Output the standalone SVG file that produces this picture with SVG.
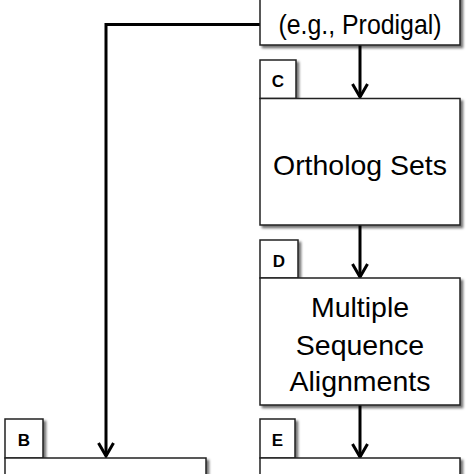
<svg xmlns="http://www.w3.org/2000/svg" width="474" height="474" viewBox="0 0 474 474">
<defs>
<filter id="sh" x="-10%" y="-10%" width="130%" height="130%">
<feDropShadow dx="2.5" dy="2.5" stdDeviation="1.3" flood-color="#000" flood-opacity="0.55"/>
</filter>
</defs>
<style>
.box{fill:#fff;stroke:#222;stroke-width:1.5;filter:url(#sh)}
.lbl{font-family:"Liberation Sans",Arial,sans-serif;font-size:28.5px;fill:#000;text-anchor:middle}
.tag{font-family:"Liberation Sans",Arial,sans-serif;font-size:17px;font-weight:bold;fill:#000;text-anchor:middle}
.ln{fill:none;stroke:#000;stroke-width:3}
.hd{fill:none;stroke:#000;stroke-width:3;stroke-linejoin:miter}
</style>
<rect width="474" height="474" fill="#fff"/>
<g id="connectors">
<path class="ln" d="M260,24.5 H106 V456"/>
<path class="hd" d="M98.5,443 L106,456 L113.5,443"/>
<path class="ln" d="M360,45 V97"/>
<path class="hd" d="M352.5,84 L360,97 L367.5,84"/>
<path class="ln" d="M360,225 V277"/>
<path class="hd" d="M352.5,264 L360,277 L367.5,264"/>
<path class="ln" d="M360,405 V457"/>
<path class="hd" d="M352.5,444 L360,457 L367.5,444"/>
</g>
<g id="node-A">
<rect class="box" x="260" y="-20" width="200" height="65"/>
<text class="lbl" x="360" y="34" textLength="163" lengthAdjust="spacingAndGlyphs">(e.g., Prodigal)</text>
</g>
<g id="node-C">
<rect class="box" x="260" y="60" width="36" height="38.5"/>
<text class="tag" x="278" y="87">C</text>
<rect class="box" x="260" y="98.5" width="200" height="126.5"/>
<text class="lbl" x="360" y="175" textLength="174" lengthAdjust="spacingAndGlyphs">Ortholog Sets</text>
</g>
<g id="node-D">
<rect class="box" x="260" y="240" width="38" height="38"/>
<text class="tag" x="279" y="267">D</text>
<rect class="box" x="260" y="278" width="200" height="127"/>
<text class="lbl" x="360" y="317">Multiple</text>
<text class="lbl" x="360" y="355">Sequence</text>
<text class="lbl" x="360" y="391">Alignments</text>
</g>
<g id="node-B">
<rect class="box" x="5" y="419" width="38" height="39"/>
<text class="tag" x="24" y="446">B</text>
<rect class="box" x="5" y="458" width="201" height="40"/>
</g>
<g id="node-E">
<rect class="box" x="260" y="419" width="35" height="39"/>
<text class="tag" x="277.5" y="446">E</text>
<rect class="box" x="260" y="458" width="200" height="40"/>
</g>
</svg>
